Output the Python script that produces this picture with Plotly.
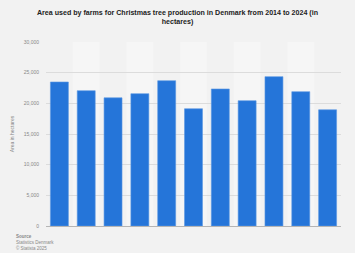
import plotly.graph_objects as go

years = ["2014", "2015", "2016", "2017", "2018", "2019", "2020", "2021", "2022", "2023", "2024"]
area = [23480, 22060, 20900, 21570, 23690, 19120, 22340, 20430, 24350, 21900, 18950]
y_ticks = [0, 5000, 10000, 15000, 20000, 25000, 30000]
y_tick_text = ["0", "5,000", "10,000", "15,000", "20,000", "25,000", "30,000"]

fig = go.Figure()
fig.add_trace(go.Bar(
    x=years, y=area,
    marker=dict(color="#2575d9", line=dict(color="#5b97e3", width=0.6)),
    width=0.67,
))

shapes = []
for i, yr in enumerate(years):
    if i % 2 == 1:
        shapes.append(dict(type="rect", xref="x", yref="paper",
                           x0=i - 0.5, x1=i + 0.5, y0=0, y1=1,
                           fillcolor="#f6f6f6", line=dict(width=0), layer="below"))

fig.update_layout(
    width=355, height=253,
    margin=dict(l=46, r=14, t=42, b=27),
    paper_bgcolor="#f2f2f2", plot_bgcolor="#f2f2f2",
    shapes=shapes,
    showlegend=False,
    font=dict(family="Liberation Sans, Arial, sans-serif", size=5, color="#666666"),
    title=dict(
        text="<b>Area used by farms for Christmas tree production in Denmark from 2014 to 2024 (in<br>hectares)</b>",
        x=0.5, xanchor="center", y=0.94, yanchor="top",
        font=dict(family="Liberation Sans, Arial, sans-serif", size=7.1, color="#222222"),
    ),
    xaxis=dict(showticklabels=False, showgrid=False, showline=True,
               linecolor="#b5b5b5", linewidth=1, ticks=""),
    yaxis=dict(range=[0, 30000], tickvals=y_ticks, ticktext=y_tick_text,
               showgrid=True, gridcolor="#dcdcdc", gridwidth=1, zeroline=False,
               ticks="", ticklabelstandoff=6,
               tickfont=dict(size=5, color="#888888"),
               title=dict(text="Area in hectares", standoff=8,
                          font=dict(size=5, color="#888888"))),
    annotations=[dict(
        text="<b>Source</b><br>Statistics Denmark<br>© Statista 2025",
        xref="paper", yref="paper", x=-0.11, y=-0.035,
        xanchor="left", yanchor="top", align="left", showarrow=False,
        font=dict(size=4.5, color="#888888"),
    )],
)

fig.write_html("out.html")
